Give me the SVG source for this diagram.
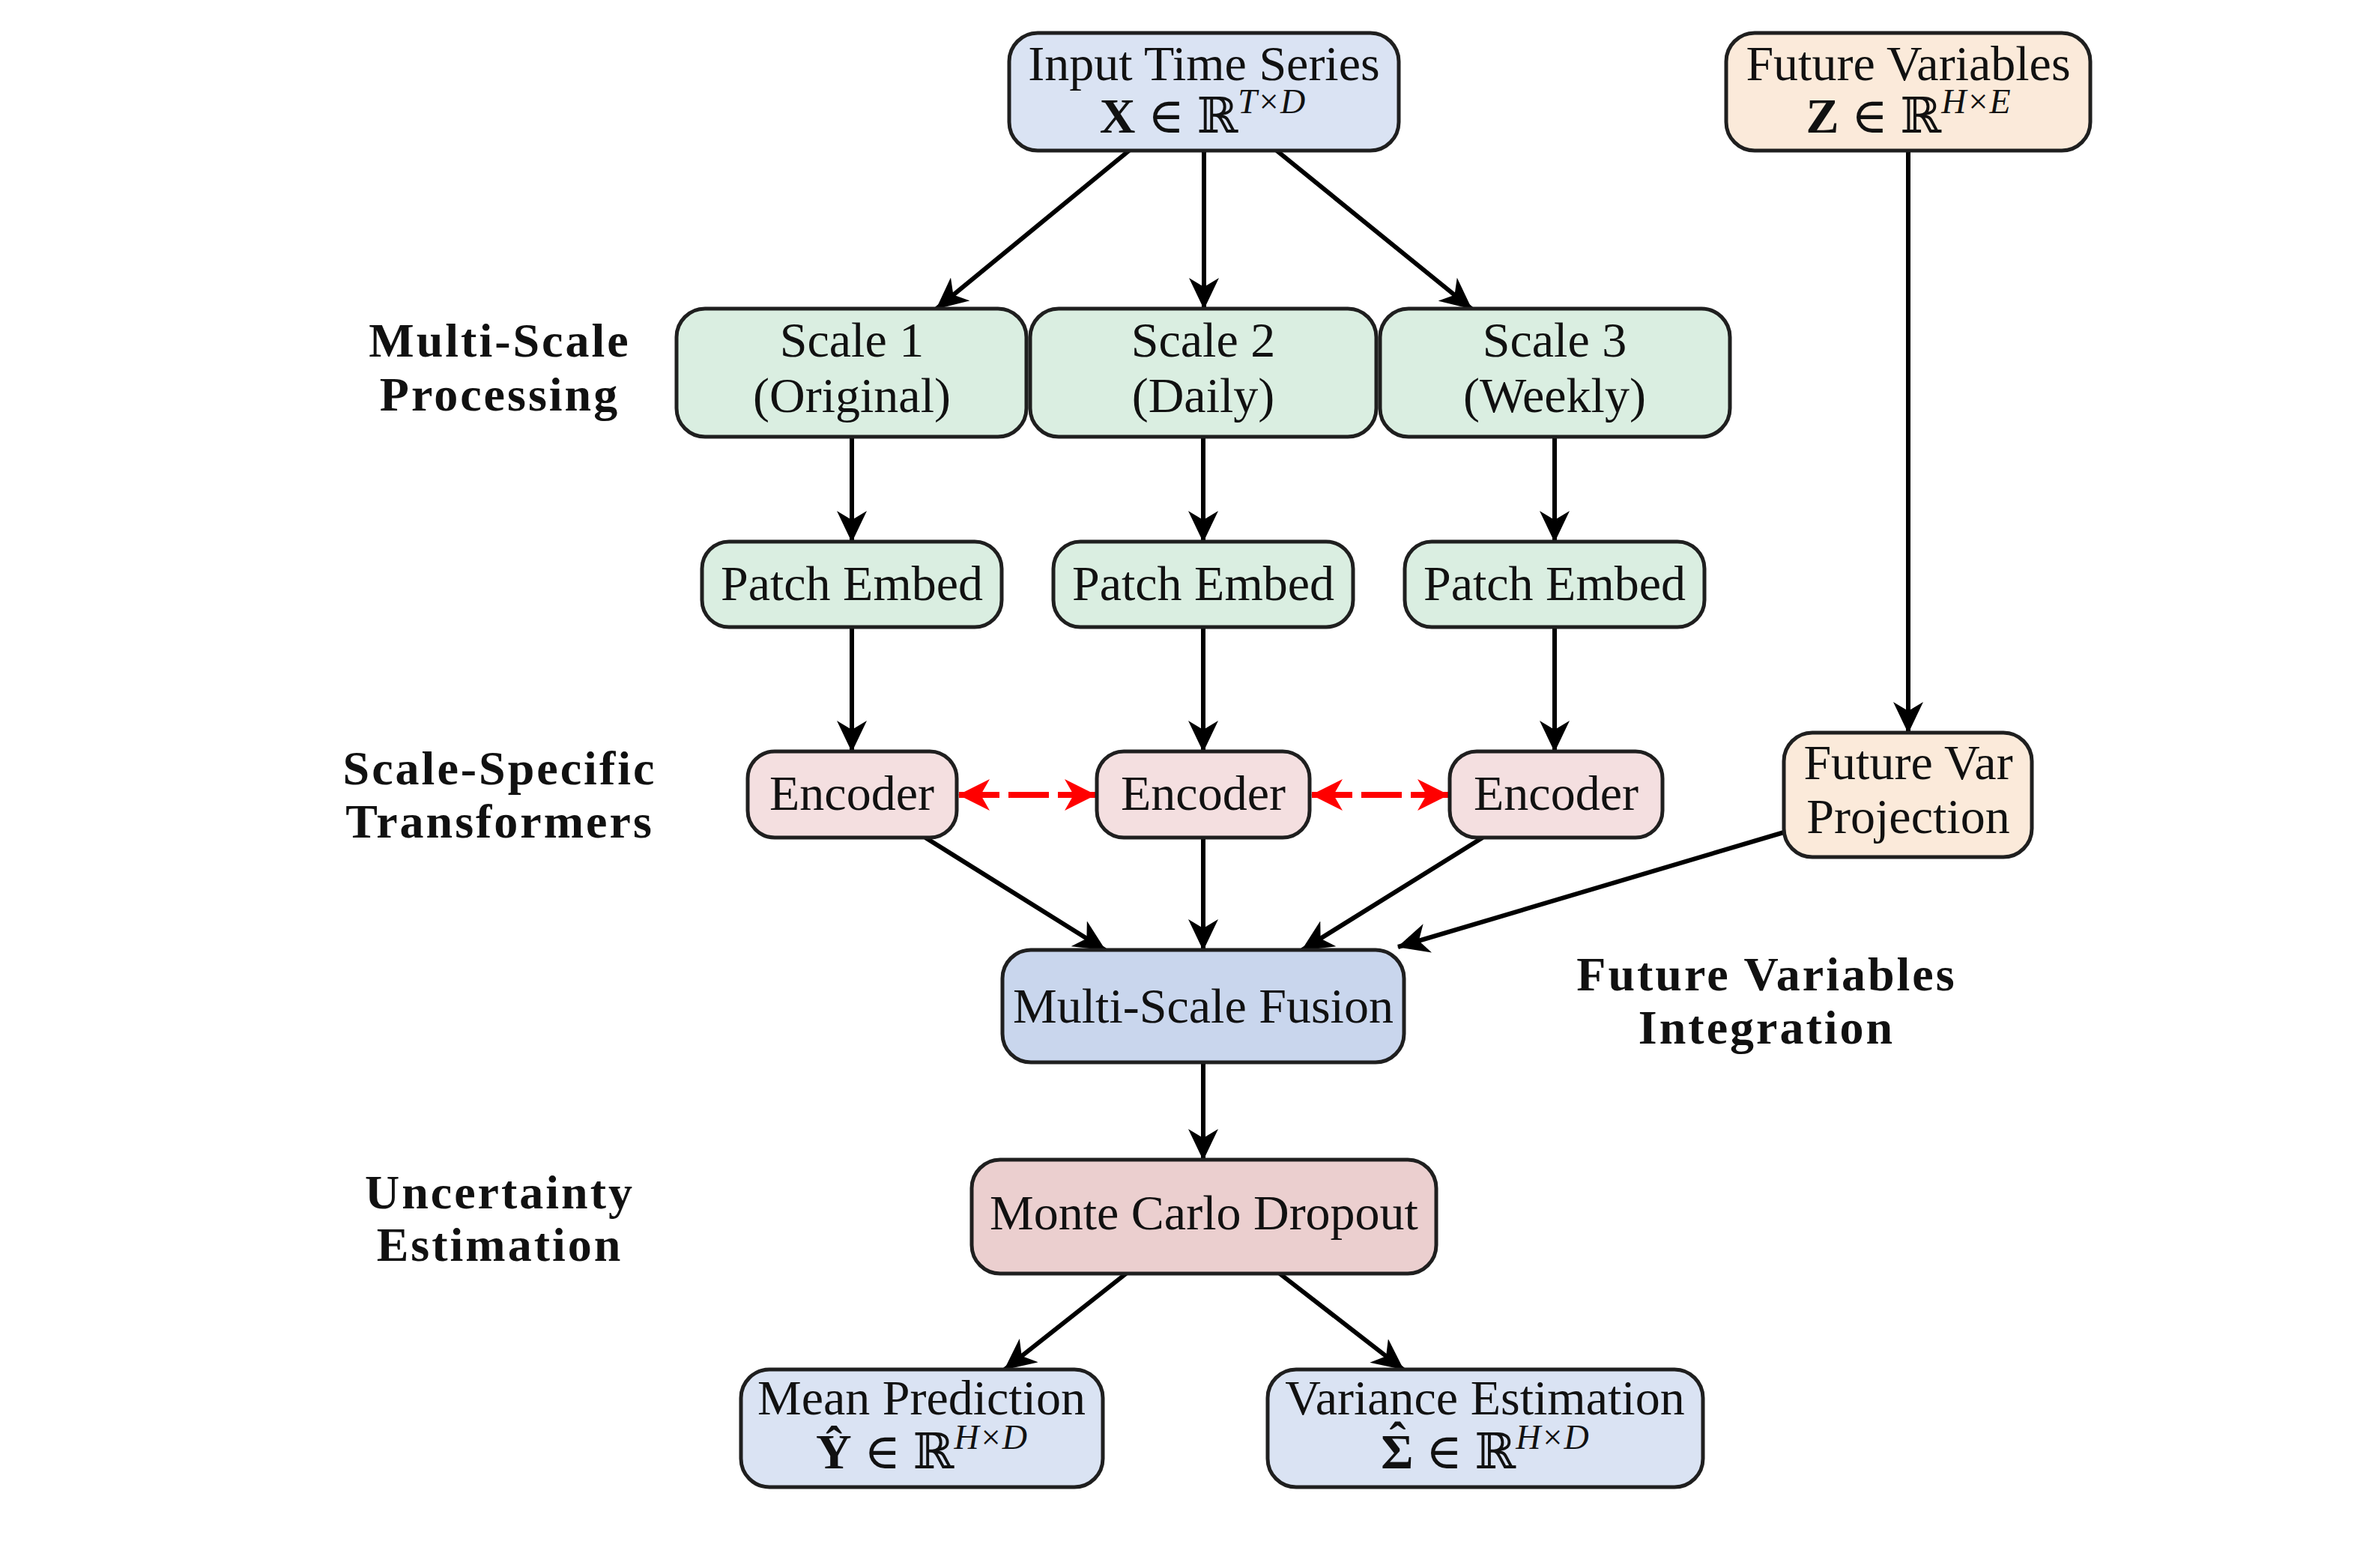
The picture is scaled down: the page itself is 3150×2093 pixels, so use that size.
<svg xmlns="http://www.w3.org/2000/svg" width="3150" height="2093" viewBox="0 0 3150 2093">
<style>
.box{stroke:#1f1f1f;stroke-width:5}
.blue{fill:#dae3f3}
.fuse{fill:#c9d6ed}
.peach{fill:#fbeada}
.green{fill:#daeee1}
.pink{fill:#f4dfe0}
.rose{fill:#ebcfcf}
.t{font-family:"Liberation Serif","DejaVu Serif",serif;font-size:66px;fill:#111;text-anchor:middle}
.sup{font-size:46px;font-style:italic}
.lab{font-family:"Liberation Serif","DejaVu Serif",serif;font-size:64px;font-weight:bold;letter-spacing:3px;fill:#111;text-anchor:middle}
.c{stroke:#000;stroke-width:6;fill:none;marker-end:url(#ah)}
.r{stroke:#ff0000;stroke-width:8;fill:none;stroke-dasharray:54 12;marker-end:url(#rh);marker-start:url(#rh)}
</style>
<defs>
<marker id="ah" markerUnits="userSpaceOnUse" viewBox="0 0 42 40" refX="41" refY="20" markerWidth="42" markerHeight="40" orient="auto">
<path d="M0,0 L42,20 L0,40 L12,20 Z" fill="#000"/>
</marker>
<marker id="rh" markerUnits="userSpaceOnUse" viewBox="0 0 42 42" refX="41" refY="21" markerWidth="42" markerHeight="42" orient="auto-start-reverse">
<path d="M0,0 L42,21 L0,42 L12,21 Z" fill="#ff0000"/>
</marker>
</defs>
<rect width="3150" height="2093" fill="#fff"/>

<g id="labels">
<text class="lab" x="667" y="476">Multi-Scale</text>
<text class="lab" x="667" y="548">Processing</text>
<text class="lab" x="667" y="1047">Scale-Specific</text>
<text class="lab" x="667" y="1118">Transformers</text>
<text class="lab" x="667" y="1613">Uncertainty</text>
<text class="lab" x="667" y="1683">Estimation</text>
<text class="lab" x="2358" y="1322">Future Variables</text>
<text class="lab" x="2358" y="1393">Integration</text>
</g>

<g id="connectors">
<line class="c" x1="1507" y1="201" x2="1250" y2="412"/>
<line class="c" x1="1607" y1="201" x2="1607" y2="412"/>
<line class="c" x1="1704" y1="201" x2="1964" y2="412"/>
<line class="c" x1="2547" y1="201" x2="2547" y2="978"/>
<line class="c" x1="1137" y1="583" x2="1137" y2="723"/>
<line class="c" x1="1606" y1="583" x2="1606" y2="723"/>
<line class="c" x1="2075" y1="583" x2="2075" y2="723"/>
<line class="c" x1="1137" y1="837" x2="1137" y2="1003"/>
<line class="c" x1="1606" y1="837" x2="1606" y2="1003"/>
<line class="c" x1="2075" y1="837" x2="2075" y2="1003"/>
<line class="r" x1="1280" y1="1061" x2="1462" y2="1061"/>
<line class="r" x1="1751" y1="1061" x2="1933" y2="1061"/>
<line class="c" x1="1235" y1="1118" x2="1475" y2="1268"/>
<line class="c" x1="1606" y1="1118" x2="1606" y2="1268"/>
<line class="c" x1="1979" y1="1118" x2="1738" y2="1268"/>
<line class="c" x1="2381" y1="1111" x2="1866" y2="1264"/>
<line class="c" x1="1606" y1="1418" x2="1606" y2="1548"/>
<line class="c" x1="1503" y1="1700" x2="1341" y2="1828"/>
<line class="c" x1="1708" y1="1700" x2="1873" y2="1828"/>
</g>

<g id="input">
<rect class="box blue" x="1347" y="44" width="520" height="157" rx="38"/>
<text class="t" x="1607" y="107">Input Time Series</text>
<text class="t" x="1605" y="177"><tspan font-weight="bold">X</tspan> ∈ ℝ<tspan class="sup" dy="-26">T</tspan><tspan class="sup" font-style="normal">×</tspan><tspan class="sup">D</tspan></text>
</g>
<g id="future-vars">
<rect class="box peach" x="2304" y="44" width="486" height="157" rx="38"/>
<text class="t" x="2547" y="107">Future Variables</text>
<text class="t" x="2547" y="177"><tspan font-weight="bold">Z</tspan> ∈ ℝ<tspan class="sup" dy="-26">H</tspan><tspan class="sup" font-style="normal">×</tspan><tspan class="sup">E</tspan></text>
</g>
<g id="scale1">
<rect class="box green" x="903" y="412" width="467" height="171" rx="38"/>
<text class="t" x="1137" y="476">Scale 1</text>
<text class="t" x="1137" y="550">(Original)</text>
</g>
<g id="scale2">
<rect class="box green" x="1375" y="412" width="462" height="171" rx="38"/>
<text class="t" x="1606" y="476">Scale 2</text>
<text class="t" x="1606" y="550">(Daily)</text>
</g>
<g id="scale3">
<rect class="box green" x="1842" y="412" width="467" height="171" rx="38"/>
<text class="t" x="2075" y="476">Scale 3</text>
<text class="t" x="2075" y="550">(Weekly)</text>
</g>
<g id="patch1">
<rect class="box green" x="937" y="723" width="400" height="114" rx="36"/>
<text class="t" x="1137" y="801">Patch Embed</text>
</g>
<g id="patch2">
<rect class="box green" x="1406" y="723" width="400" height="114" rx="36"/>
<text class="t" x="1606" y="801">Patch Embed</text>
</g>
<g id="patch3">
<rect class="box green" x="1875" y="723" width="400" height="114" rx="36"/>
<text class="t" x="2075" y="801">Patch Embed</text>
</g>
<g id="encoder1">
<rect class="box pink" x="998" y="1003" width="279" height="115" rx="36"/>
<text class="t" x="1137" y="1081">Encoder</text>
</g>
<g id="encoder2">
<rect class="box pink" x="1464" y="1003" width="284" height="115" rx="36"/>
<text class="t" x="1606" y="1081">Encoder</text>
</g>
<g id="encoder3">
<rect class="box pink" x="1935" y="1003" width="284" height="115" rx="36"/>
<text class="t" x="2077" y="1081">Encoder</text>
</g>
<g id="future-proj">
<rect class="box peach" x="2381" y="978" width="331" height="166" rx="38"/>
<text class="t" x="2547" y="1040">Future Var</text>
<text class="t" x="2547" y="1112">Projection</text>
</g>
<g id="fusion">
<rect class="box fuse" x="1338" y="1268" width="536" height="150" rx="38"/>
<text class="t" x="1606" y="1365">Multi-Scale Fusion</text>
</g>
<g id="mc-dropout">
<rect class="box rose" x="1297" y="1548" width="620" height="152" rx="38"/>
<text class="t" x="1607" y="1641">Monte Carlo Dropout</text>
</g>
<g id="mean">
<rect class="box blue" x="989" y="1828" width="483" height="157" rx="38"/>
<text class="t" x="1230" y="1888">Mean Prediction</text>
<text class="t" x="1230" y="1960"><tspan font-weight="bold">Ŷ</tspan> ∈ ℝ<tspan class="sup" dy="-26">H</tspan><tspan class="sup" font-style="normal">×</tspan><tspan class="sup">D</tspan></text>
</g>
<g id="variance">
<rect class="box blue" x="1692" y="1828" width="581" height="157" rx="38"/>
<text class="t" x="1982" y="1888">Variance Estimation</text>
<text class="t" x="1982" y="1960"><tspan font-weight="bold">Σ</tspan><tspan font-weight="bold" dx="-32" dy="-16">ˆ</tspan><tspan dx="10" dy="16"> ∈ ℝ</tspan><tspan class="sup" dy="-26">H</tspan><tspan class="sup" font-style="normal">×</tspan><tspan class="sup">D</tspan></text>
</g>
</svg>
